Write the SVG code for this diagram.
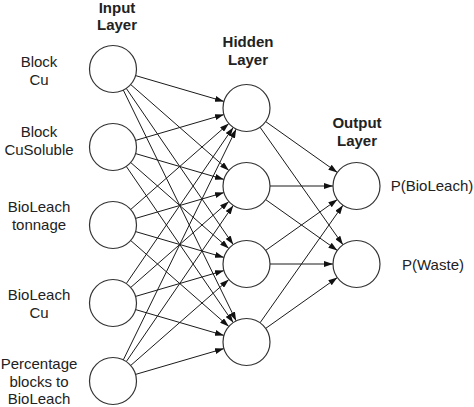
<svg xmlns="http://www.w3.org/2000/svg" width="474" height="407" viewBox="0 0 474 407">
<defs>
<marker id="arr" markerUnits="userSpaceOnUse" markerWidth="9" markerHeight="6" refX="9" refY="3" orient="auto">
<path d="M0,0 L9,3 L0,6 z" fill="#111"/>
</marker>
<style>
.node{fill:#fff;stroke:#333;stroke-width:1.2}
.edge{fill:none;stroke:#1a1a1a;stroke-width:1;marker-end:url(#arr)}
.lbl{font-family:"Liberation Sans",Arial,Helvetica,sans-serif;font-size:15px;fill:#222;text-anchor:middle}
.ttl{font-family:"Liberation Sans",Arial,Helvetica,sans-serif;font-size:15px;font-weight:bold;fill:#222;text-anchor:middle}
</style>
</defs>
<rect width="474" height="407" fill="#fff"/>
<g id="titles">
<text class="ttl" x="117" y="13">Input</text>
<text class="ttl" x="117" y="30">Layer</text>
<text class="ttl" x="248" y="47">Hidden</text>
<text class="ttl" x="248" y="65">Layer</text>
<text class="ttl" x="357" y="128">Output</text>
<text class="ttl" x="357" y="146">Layer</text>
</g>
<g id="connectors">
<path class="edge" d="M135.56,75.59 L223.94,101.41"/>
<path class="edge" d="M130.67,84.49 L228.83,170.51"/>
<path class="edge" d="M126.28,88.39 L233.22,244.61"/>
<path class="edge" d="M123.32,90.11 L236.18,320.89"/>
<path class="edge" d="M135.56,140.41 L223.94,114.59"/>
<path class="edge" d="M135.56,153.59 L223.94,179.41"/>
<path class="edge" d="M130.67,162.49 L228.83,248.51"/>
<path class="edge" d="M126.28,166.39 L233.22,322.61"/>
<path class="edge" d="M130.67,209.51 L228.83,123.49"/>
<path class="edge" d="M135.56,218.41 L223.94,192.59"/>
<path class="edge" d="M135.56,231.59 L223.94,257.41"/>
<path class="edge" d="M130.67,240.49 L228.83,326.51"/>
<path class="edge" d="M126.28,283.61 L233.22,127.39"/>
<path class="edge" d="M130.67,287.51 L228.83,201.49"/>
<path class="edge" d="M135.56,296.41 L223.94,270.59"/>
<path class="edge" d="M135.56,309.59 L223.94,335.41"/>
<path class="edge" d="M123.32,359.89 L236.18,129.11"/>
<path class="edge" d="M126.28,361.61 L233.22,205.39"/>
<path class="edge" d="M130.67,365.51 L228.83,279.49"/>
<path class="edge" d="M135.56,374.41 L223.94,348.59"/>
<path class="edge" d="M265.67,121.59 L337.33,172.41"/>
<path class="edge" d="M260.04,127.21 L342.96,244.79"/>
<path class="edge" d="M270,186 L333,186"/>
<path class="edge" d="M265.67,199.59 L337.33,250.41"/>
<path class="edge" d="M265.67,250.41 L337.33,199.59"/>
<path class="edge" d="M270,264 L333,264"/>
<path class="edge" d="M260.04,322.79 L342.96,205.21"/>
<path class="edge" d="M265.67,328.41 L337.33,277.59"/>
</g>
<g id="in1"><circle class="node" cx="113" cy="69" r="23.5"/><text class="lbl" x="39" y="67">Block</text><text class="lbl" x="39" y="85">Cu</text></g>
<g id="in2"><circle class="node" cx="113" cy="147" r="23.5"/><text class="lbl" x="39" y="137">Block</text><text class="lbl" x="39" y="155">CuSoluble</text></g>
<g id="in3"><circle class="node" cx="113" cy="225" r="23.5"/><text class="lbl" x="39" y="212">BioLeach</text><text class="lbl" x="39" y="230">tonnage</text></g>
<g id="in4"><circle class="node" cx="113" cy="303" r="23.5"/><text class="lbl" x="39" y="300">BioLeach</text><text class="lbl" x="39" y="318">Cu</text></g>
<g id="in5"><circle class="node" cx="113" cy="381" r="23.5"/><text class="lbl" x="39" y="369">Percentage</text><text class="lbl" x="39" y="387">blocks to</text><text class="lbl" x="39" y="404">BioLeach</text></g>
<g id="h1"><circle class="node" cx="246.5" cy="108" r="23.5"/></g>
<g id="h2"><circle class="node" cx="246.5" cy="186" r="23.5"/></g>
<g id="h3"><circle class="node" cx="246.5" cy="264" r="23.5"/></g>
<g id="h4"><circle class="node" cx="246.5" cy="342" r="23.5"/></g>
<g id="o1"><circle class="node" cx="356.5" cy="186" r="23.5"/><text class="lbl" x="432" y="191">P(BioLeach)</text></g>
<g id="o2"><circle class="node" cx="356.5" cy="264" r="23.5"/><text class="lbl" x="433" y="270">P(Waste)</text></g>
</svg>
